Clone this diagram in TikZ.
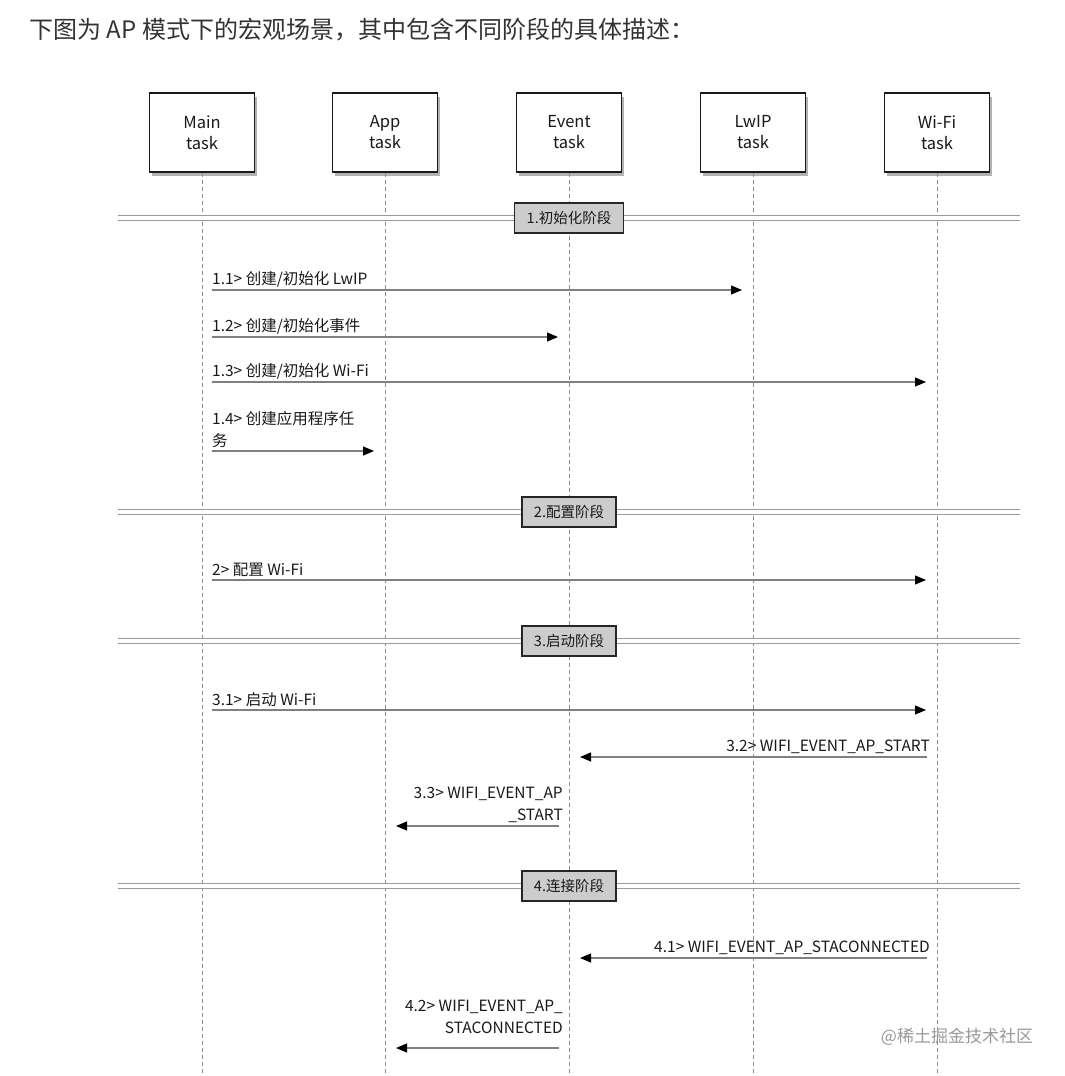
\documentclass[tikz,border=0pt]{standalone}
\usepackage{fontspec}
\setmainfont{Noto Sans CJK SC}
\usetikzlibrary{arrows.meta,positioning,shadows}

\begin{document}
\begin{tikzpicture}[x=1pt,y=-1pt,
  lifebox/.style={draw=black!90, line width=1.3pt, fill=white, minimum width=105pt, minimum height=79pt,
    align=center, font=\fontsize{16.5}{21}\selectfont, text=black!90,
    drop shadow={shadow xshift=2.5pt, shadow yshift=-3.5pt, opacity=0.5, fill=black!60}},
  lifeline/.style={draw=black!45, dash pattern=on 4pt off 3pt, line width=0.8pt},
  phaseline/.style={draw=black!40, double=white, double distance=3.5pt, line width=1pt},
  phasebox/.style={draw=black!85, fill=black!20, line width=1.1pt, minimum height=30pt,
    font=\fontsize{14.5}{16}\selectfont, text=black!90, inner xsep=12pt},
  msg/.style={draw=black!50, line width=1.1pt, shorten <=10pt, shorten >=11pt,
    -{Triangle[color=black, length=11pt, width=9pt]}},
  lbl/.style={font=\fontsize{15.5}{22}\selectfont, text=black!90, inner sep=0pt}
]
\useasboundingbox (0,0) rectangle (1065,1076);
\fill[white] (0,0) rectangle (1065,1076);

\node[anchor=west, font=\fontsize{24}{28}\selectfont, text=black!80] (title) at (26,30)
  {下图为 AP 模式下的宏观场景，其中包含不同阶段的具体描述：};

% lifelines
\foreach \x/\name/\txt in {202/main/Main, 385/app/App, 569/event/Event, 753/lwip/LwIP, 937/wifi/Wi-Fi}{
  \node[lifebox] (\name) at (\x,132.5) {\txt\\task};
  \coordinate (\name end) at (\x,1076);
  \draw[lifeline] (\name) -- (\name end);
}

% phases
\foreach \y/\name/\txt in {218/p1/1.初始化阶段, 512/p2/2.配置阶段, 641/p3/3.启动阶段, 886/p4/4.连接阶段}{
  \coordinate (\name l) at (118,\y);
  \coordinate (\name r) at (1020,\y);
  \draw[phaseline] (\name l) -- (\name r);
  \node[phasebox] (\name) at (569,\y) {\txt};
}

% messages
\foreach \y/\src/\dst/\name in {290/main/lwip/m11, 337/main/event/m12, 382/main/wifi/m13, 451/main/app/m14,
    580/main/wifi/m2, 710/main/wifi/m31, 757/wifi/event/m32, 826/event/app/m33,
    958/wifi/event/m41, 1048/event/app/m42}{
  \coordinate (\name a) at (\src |- 0,\y);
  \coordinate (\name b) at (\dst |- 0,\y);
  \draw[msg] (\name a) -- (\name b);
}

\node[lbl, anchor=south west] (l11) at ([xshift=10pt,yshift=3pt]m11a) {1.1> 创建/初始化 LwIP};
\node[lbl, anchor=south west] (l12) at ([xshift=10pt,yshift=3pt]m12a) {1.2> 创建/初始化事件};
\node[lbl, anchor=south west] (l13) at ([xshift=10pt,yshift=3pt]m13a) {1.3> 创建/初始化 Wi-Fi};
\node[lbl, anchor=south west, align=left] (l14) at ([xshift=10pt,yshift=3pt]m14a) {1.4> 创建应用程序任\\务};
\node[lbl, anchor=south west] (l2) at ([xshift=10pt,yshift=3pt]m2a) {2> 配置 Wi-Fi};
\node[lbl, anchor=south west] (l31) at ([xshift=10pt,yshift=3pt]m31a) {3.1> 启动 Wi-Fi};
\node[lbl, anchor=south east] (l32) at ([xshift=-7pt,yshift=3pt]m32a) {3.2> WIFI\_EVENT\_AP\_START};
\node[lbl, anchor=south east, align=right] (l33) at ([xshift=-6pt,yshift=3pt]m33a) {3.3> WIFI\_EVENT\_AP\\\_START};
\node[lbl, anchor=south east] (l41) at ([xshift=-7pt,yshift=3pt]m41a) {4.1> WIFI\_EVENT\_AP\_STACONNECTED};
\node[lbl, anchor=south east, align=right] (l42) at ([xshift=-6pt,yshift=14pt]m42a) {4.2> WIFI\_EVENT\_AP\_\\STACONNECTED};

\node[font=\fontsize{17}{20}\selectfont, text=black!40] (mark) at (957,1037) {@稀土掘金技术社区};
\end{tikzpicture}
\end{document}
